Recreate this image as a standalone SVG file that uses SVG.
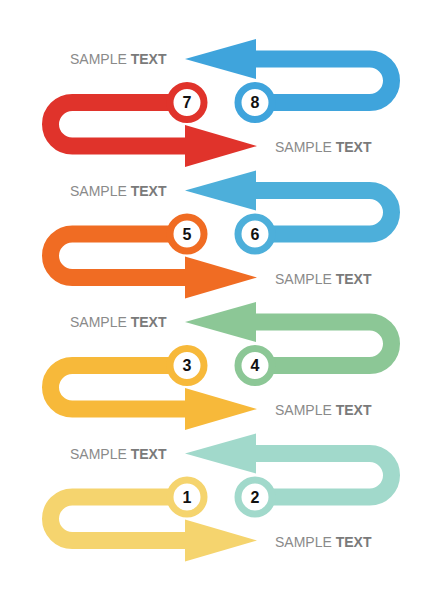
<svg xmlns="http://www.w3.org/2000/svg" width="442" height="600" viewBox="0 0 442 600">
<style>
.band{fill:none;stroke-width:17;stroke-linecap:butt}
.head{stroke:none}
.ring{fill:#ffffff;stroke-width:7}
.num{font-family:"Liberation Sans",Arial,sans-serif;font-weight:bold;font-size:16px;fill:#111111;stroke:none;text-anchor:middle}
.lbl{font-family:"Liberation Sans",Arial,sans-serif;font-size:14px;fill:#8a8a8a}
.lbl tspan.b{font-weight:bold;fill:#7a7a7a}
.c8{stroke:#3fa4dc;fill:#3fa4dc}
.c7{stroke:#e0332b;fill:#e0332b}
.c6{stroke:#4dafda;fill:#4dafda}
.c5{stroke:#f06c23;fill:#f06c23}
.c4{stroke:#8cc796;fill:#8cc796}
.c3{stroke:#f7b93a;fill:#f7b93a}
.c2{stroke:#a1d9cb;fill:#a1d9cb}
.c1{stroke:#f5d46e;fill:#f5d46e}
</style>
<defs>
<g id="leftArrow">
<path class="band" d="M254,59 H369.75 A21.75,21.75 0 0 1 369.75,102.5 H255"/>
<polygon class="head" points="185,59 256,39 256,79"/>
</g>
<g id="rightArrow">
<path class="band" d="M187,102.5 H72.25 A21.75,21.75 0 0 0 72.25,146 H186"/>
<polygon class="head" points="257,146 185,125 185,167"/>
</g>
</defs>
<g id="connectors"></g>
<g id="labels">
<text class="lbl" x="70" y="64">SAMPLE <tspan class="b">TEXT</tspan></text>
<text class="lbl" x="275" y="152">SAMPLE <tspan class="b">TEXT</tspan></text>
<text class="lbl" x="70" y="195.5">SAMPLE <tspan class="b">TEXT</tspan></text>
<text class="lbl" x="275" y="283.5">SAMPLE <tspan class="b">TEXT</tspan></text>
<text class="lbl" x="70" y="327">SAMPLE <tspan class="b">TEXT</tspan></text>
<text class="lbl" x="275" y="415">SAMPLE <tspan class="b">TEXT</tspan></text>
<text class="lbl" x="70" y="458.5">SAMPLE <tspan class="b">TEXT</tspan></text>
<text class="lbl" x="275" y="546.5">SAMPLE <tspan class="b">TEXT</tspan></text>
</g>
<g id="step8" class="c8">
<use href="#leftArrow"/>
<circle class="ring" cx="255" cy="102.5" r="17"/>
<text class="num" x="255" y="108.3">8</text>
</g>
<g id="step7" class="c7">
<use href="#rightArrow"/>
<circle class="ring" cx="187" cy="102.5" r="17"/>
<text class="num" x="187" y="108.3">7</text>
</g>
<g id="step6" class="c6" transform="translate(0,131.5)">
<use href="#leftArrow"/>
<circle class="ring" cx="255" cy="102.5" r="17"/>
<text class="num" x="255" y="108.3">6</text>
</g>
<g id="step5" class="c5" transform="translate(0,131.5)">
<use href="#rightArrow"/>
<circle class="ring" cx="187" cy="102.5" r="17"/>
<text class="num" x="187" y="108.3">5</text>
</g>
<g id="step4" class="c4" transform="translate(0,263)">
<use href="#leftArrow"/>
<circle class="ring" cx="255" cy="102.5" r="17"/>
<text class="num" x="255" y="108.3">4</text>
</g>
<g id="step3" class="c3" transform="translate(0,263)">
<use href="#rightArrow"/>
<circle class="ring" cx="187" cy="102.5" r="17"/>
<text class="num" x="187" y="108.3">3</text>
</g>
<g id="step2" class="c2" transform="translate(0,394.5)">
<use href="#leftArrow"/>
<circle class="ring" cx="255" cy="102.5" r="17"/>
<text class="num" x="255" y="108.3">2</text>
</g>
<g id="step1" class="c1" transform="translate(0,394.5)">
<use href="#rightArrow"/>
<circle class="ring" cx="187" cy="102.5" r="17"/>
<text class="num" x="187" y="108.3">1</text>
</g>
</svg>
